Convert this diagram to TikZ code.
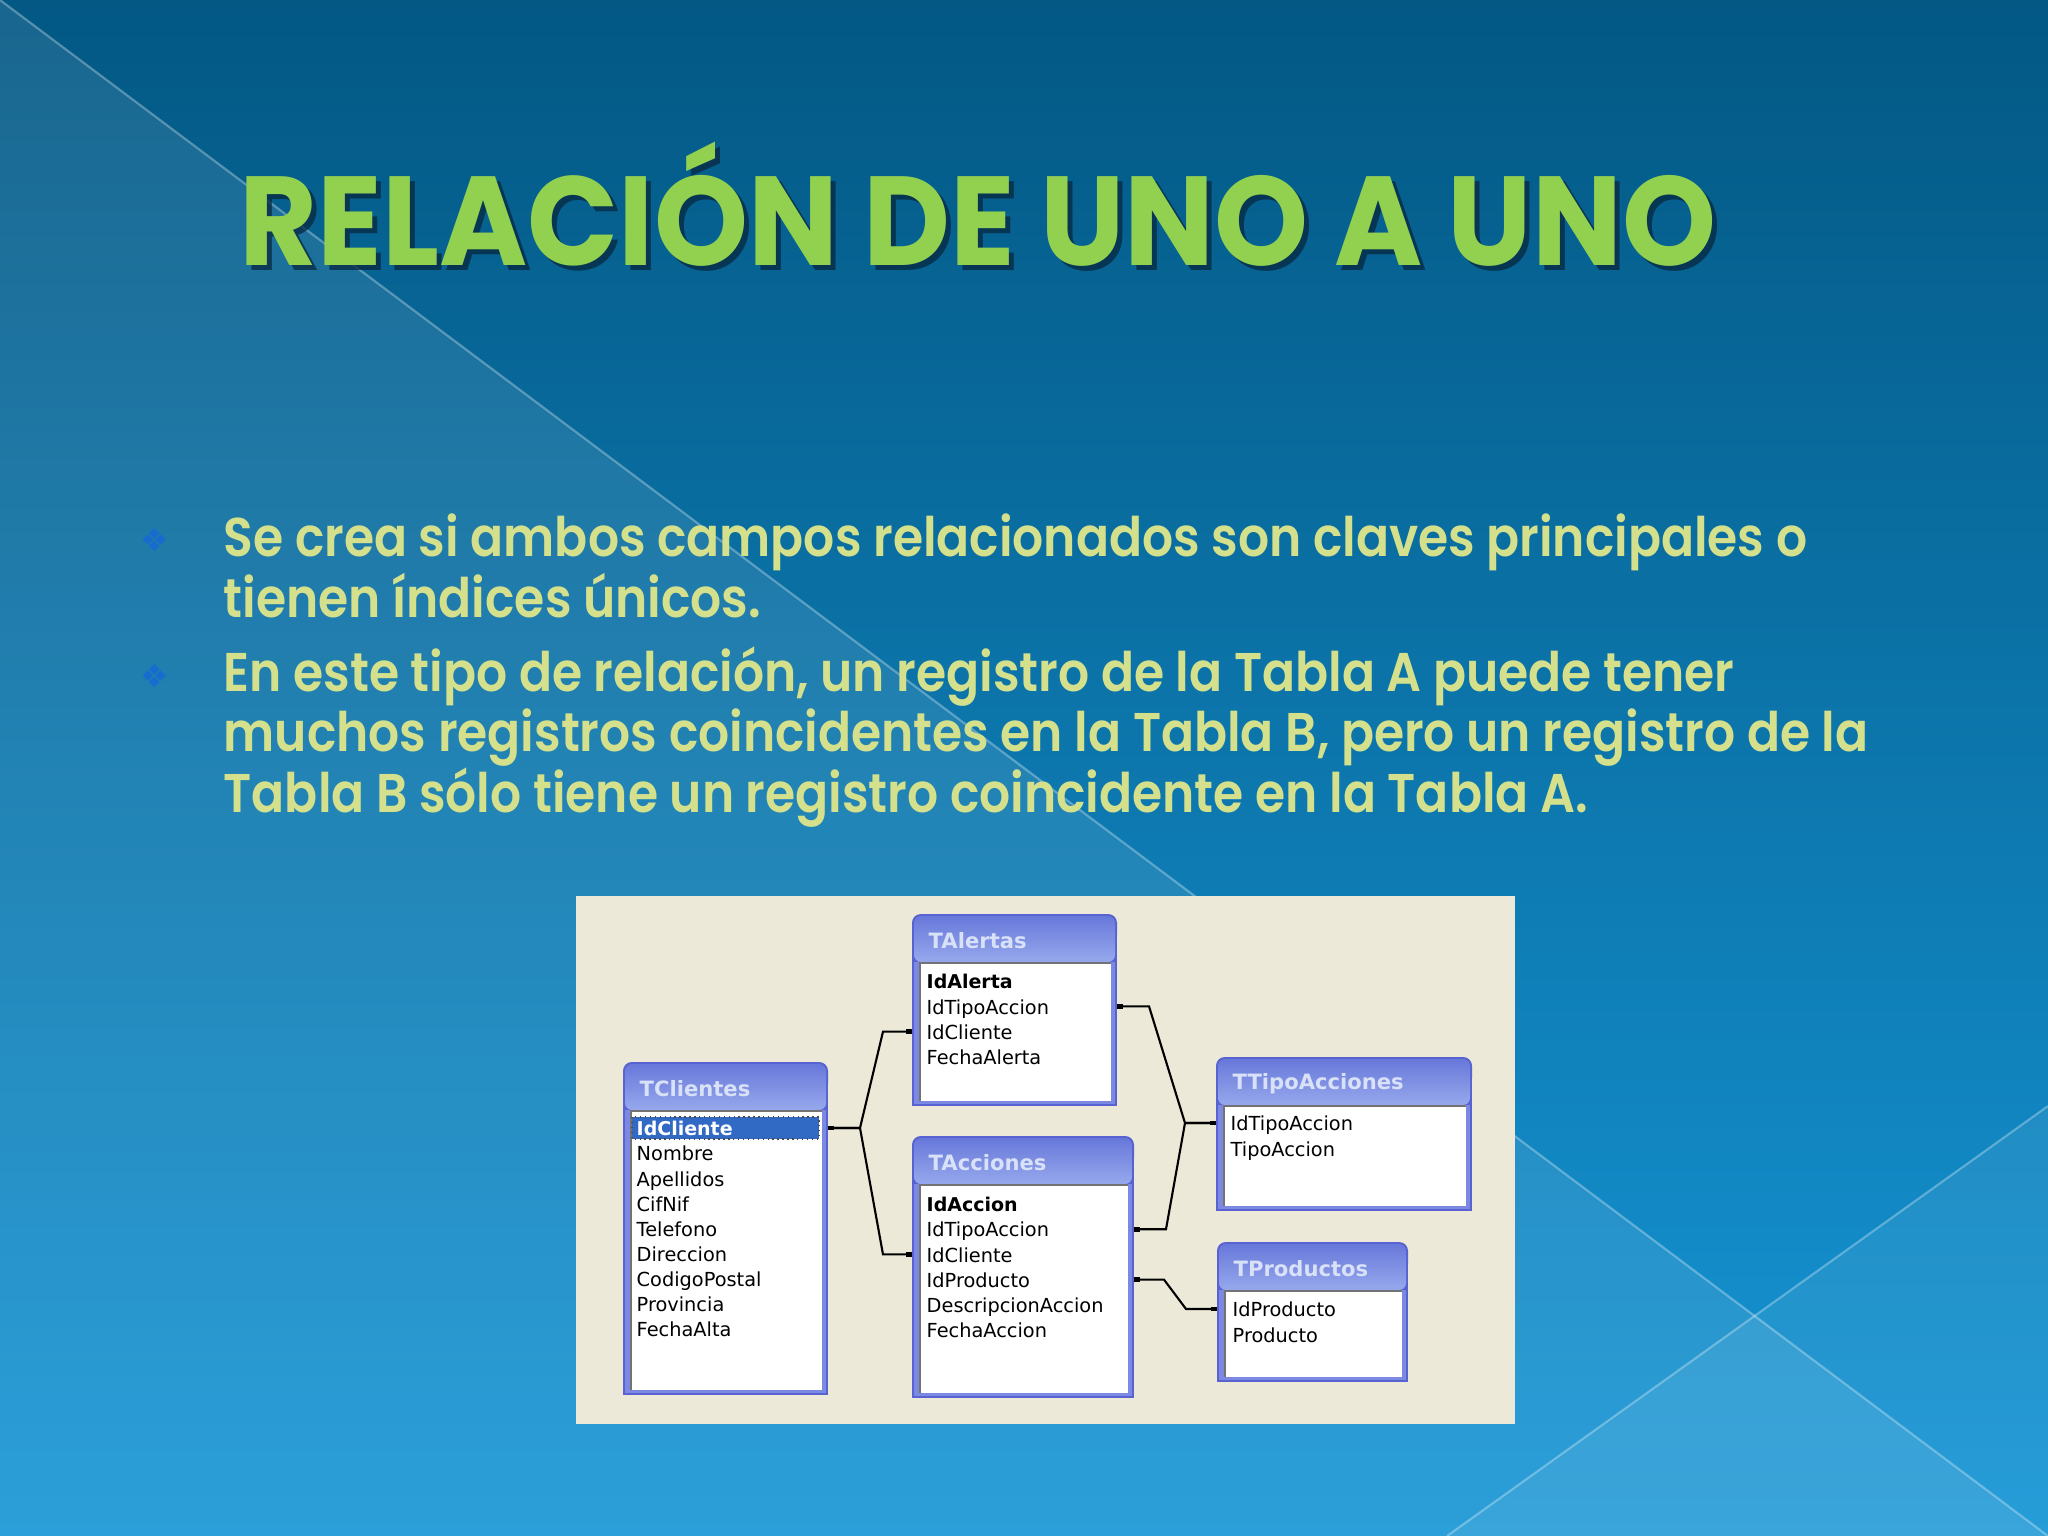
\documentclass[tikz,border=0pt]{standalone}
\usepackage{graphicx}
\usepackage{fontspec}
\setmainfont{Poppins}
\newfontfamily\semifont{Poppins SemiBold}
\newfontfamily\tblfont{DejaVu Sans}
\usetikzlibrary{calc,fit,arrows.meta}
\definecolor{bgtop}{RGB}{3,88,132}
\definecolor{bgbot}{RGB}{22,150,214}
\definecolor{titlegreen}{RGB}{146,208,80}
\definecolor{titleshadow}{RGB}{8,40,64}
\definecolor{bodytext}{RGB}{212,224,140}
\definecolor{bulletblue}{RGB}{20,105,215}
\definecolor{panelbeige}{RGB}{236,233,216}
\definecolor{winedge}{RGB}{88,98,208}
\definecolor{winside}{RGB}{124,137,226}
\definecolor{bartop}{RGB}{104,120,218}
\definecolor{barbot}{RGB}{150,168,236}
\definecolor{bartxt}{RGB}{216,225,248}
\definecolor{selblue}{RGB}{49,106,197}
\newcommand\sqz[1]{\scalebox{0.895}[1]{#1}}
\tikzset{
  field/.style={anchor=west, inner sep=0pt, text height=5pt, text depth=0.6pt,
    font=\tblfont\fontsize{5.5}{6}\selectfont},
  keyfield/.style={field, font=\tblfont\bfseries\fontsize{5.4}{6}\selectfont},
  bartext/.style={anchor=west, inner sep=0pt, text=bartxt,
    font=\tblfont\bfseries\fontsize{6}{7}\selectfont},
  relation/.style={line width=0.6pt,
    {Square[length=1.6pt,width=1.3pt]}-{Square[length=1.6pt,width=1.3pt]}},
  bodyline/.style={anchor=base west, inner sep=0pt, text=bodytext,
    font=\semifont\fontsize{15.5}{18}\selectfont},
  bullet/.style={inner sep=0pt, text=bulletblue, opacity=0.85,
    font=\tblfont\fontsize{9}{10}\selectfont},
}
% one window of the relationship view: #1 name, #2 title
\newcommand\dbwin[2]{%
  \node[fit=(#1-nw)(#1-se), inner sep=0pt, outer sep=0pt] (#1) {};
  \fill[winedge, rounded corners=2.5pt] (#1.north west) rectangle ([shift={(0,30)}]#1.north east);
  \fill[winedge] ([shift={(0,15)}]#1.north west) rectangle (#1.south east);
  \shade[top color=bartop, bottom color=barbot, rounded corners=2pt]
    ([shift={(2,2)}]#1.north west) rectangle ([shift={(-2,48)}]#1.north east);
  \fill[winside] ([shift={(2,48)}]#1.north west) rectangle ([shift={(-2,-2)}]#1.south east);
  \fill[white] ([shift={(8,49)}]#1.north west) rectangle ([shift={(-6,-5)}]#1.south east);
  \draw[black!55, line width=0.5pt] ([shift={(8,-5)}]#1.south west) |- ([shift={(-6,49)}]#1.north east);
  \node[bartext] (#1-t) at ([shift={(16,27)}]#1.north west) {#2};
}
\begin{document}
\begin{tikzpicture}[x=0.01cm,y=-0.01cm]
% slide background, 2048 x 1536 units
\useasboundingbox (0,0) rectangle (2048,1536);
\shade[top color=bgtop, bottom color=bgbot] (0,0) rectangle (2048,1536);
\fill[white, opacity=0.09] (0,0) -- (2048,1536) -- (0,1536) -- cycle;
\fill[white, opacity=0.07] (2048,1106) -- (1447,1536) -- (2048,1536) -- cycle;
\draw[white, opacity=0.3, line width=0.6pt] (0,0) -- (2048,1536);
\draw[white, opacity=0.3, line width=0.6pt] (2048,1106) -- (1447,1536);

% title
\node[anchor=base west, inner sep=0pt, text=titleshadow, opacity=0.75,
  font=\bfseries\fontsize{36}{40}\selectfont] (titleshade) at (244,270) {\scalebox{0.945}[1]{RELACIÓN DE UNO A UNO}};
\node[anchor=base west, inner sep=0pt, text=titlegreen,
  font=\bfseries\fontsize{36}{40}\selectfont] (title) at (239,265) {\scalebox{0.945}[1]{RELACIÓN DE UNO A UNO}};

% bullets
\node[bullet] (bul1) at (155,540) {❖};
\node[bullet] (bul2) at (155,676) {❖};
\node[bodyline] (l1) at (223,556) {\sqz{Se crea si ambos campos relacionados son claves principales o}};
\node[bodyline] (l2) at (223,617) {\sqz{tienen índices únicos.}};
\node[bodyline] (l3) at (223,691) {\sqz{En este tipo de relación, un registro de la Tabla A puede tener}};
\node[bodyline] (l4) at (223,751) {\sqz{muchos registros coincidentes en la Tabla B, pero un registro de la}};
\node[bodyline] (l5) at (223,812) {\sqz{Tabla B sólo tiene un registro coincidente en la Tabla A.}};

% relationship view
\fill[panelbeige] (576,896) rectangle (1515,1424);

\coordinate (cli-nw) at (623,1062); \coordinate (cli-se) at (828,1395);
\dbwin{cli}{TClientes}
\fill[selblue] (632,1117) rectangle (819,1139);
\draw[densely dotted, line width=0.4pt, black!70] (632,1117) rectangle (819,1139);
\node[keyfield, text=white] (cli-1) at (636,1128) {IdCliente};
\foreach \f [count=\i from 2] in {Nombre,Apellidos,CifNif,Telefono,Direccion,CodigoPostal,Provincia,FechaAlta}
  \node[field] (cli-\i) at (636,{1128+25.14*(\i-1)}) {\f};

\coordinate (alr-nw) at (912,914); \coordinate (alr-se) at (1117,1106);
\dbwin{alr}{TAlertas}
\node[keyfield] (alr-1) at (926,981) {IdAlerta};
\foreach \f [count=\i from 2] in {IdTipoAccion,IdCliente,FechaAlerta}
  \node[field] (alr-\i) at (926,{981+25.3*(\i-1)}) {\f};

\coordinate (acc-nw) at (912,1136); \coordinate (acc-se) at (1134,1398);
\dbwin{acc}{TAcciones}
\node[keyfield] (acc-1) at (926,1204) {IdAccion};
\foreach \f [count=\i from 2] in {IdTipoAccion,IdCliente,IdProducto,DescripcionAccion,FechaAccion}
  \node[field] (acc-\i) at (926,{1204+25.2*(\i-1)}) {\f};

\coordinate (tip-nw) at (1216,1057); \coordinate (tip-se) at (1472,1211);
\dbwin{tip}{TTipoAcciones}
\foreach \f [count=\i] in {IdTipoAccion,TipoAccion}
  \node[field] (tip-\i) at (1230,{1123+25.5*(\i-1)}) {\f};

\coordinate (pro-nw) at (1217,1242); \coordinate (pro-se) at (1408,1382);
\dbwin{pro}{TProductos}
\foreach \f [count=\i] in {IdProducto,Producto}
  \node[field] (pro-\i) at (1232,{1309+25.5*(\i-1)}) {\f};

% relations
\draw[relation] (cli.east |- cli-1) -- ++(32,0) -- ($(alr.west |- alr-3)+(-29,0)$) -- (alr.west |- alr-3);
\draw[relation] (cli.east |- cli-1) -- ++(32,0) -- ($(acc.west |- acc-3)+(-29,0)$) -- (acc.west |- acc-3);
\draw[relation] (alr.east |- alr-2) -- ++(32,0) -- ($(tip.west |- tip-1)+(-31,0)$) -- (tip.west |- tip-1);
\draw[relation] (acc.east |- acc-2) -- ++(32,0) -- ($(tip.west |- tip-1)+(-31,0)$) -- (tip.west |- tip-1);
\draw[relation] (acc.east |- acc-4) -- ++(30,0) -- ($(pro.west |- pro-1)+(-31,0)$) -- (pro.west |- pro-1);
\end{tikzpicture}
\end{document}
